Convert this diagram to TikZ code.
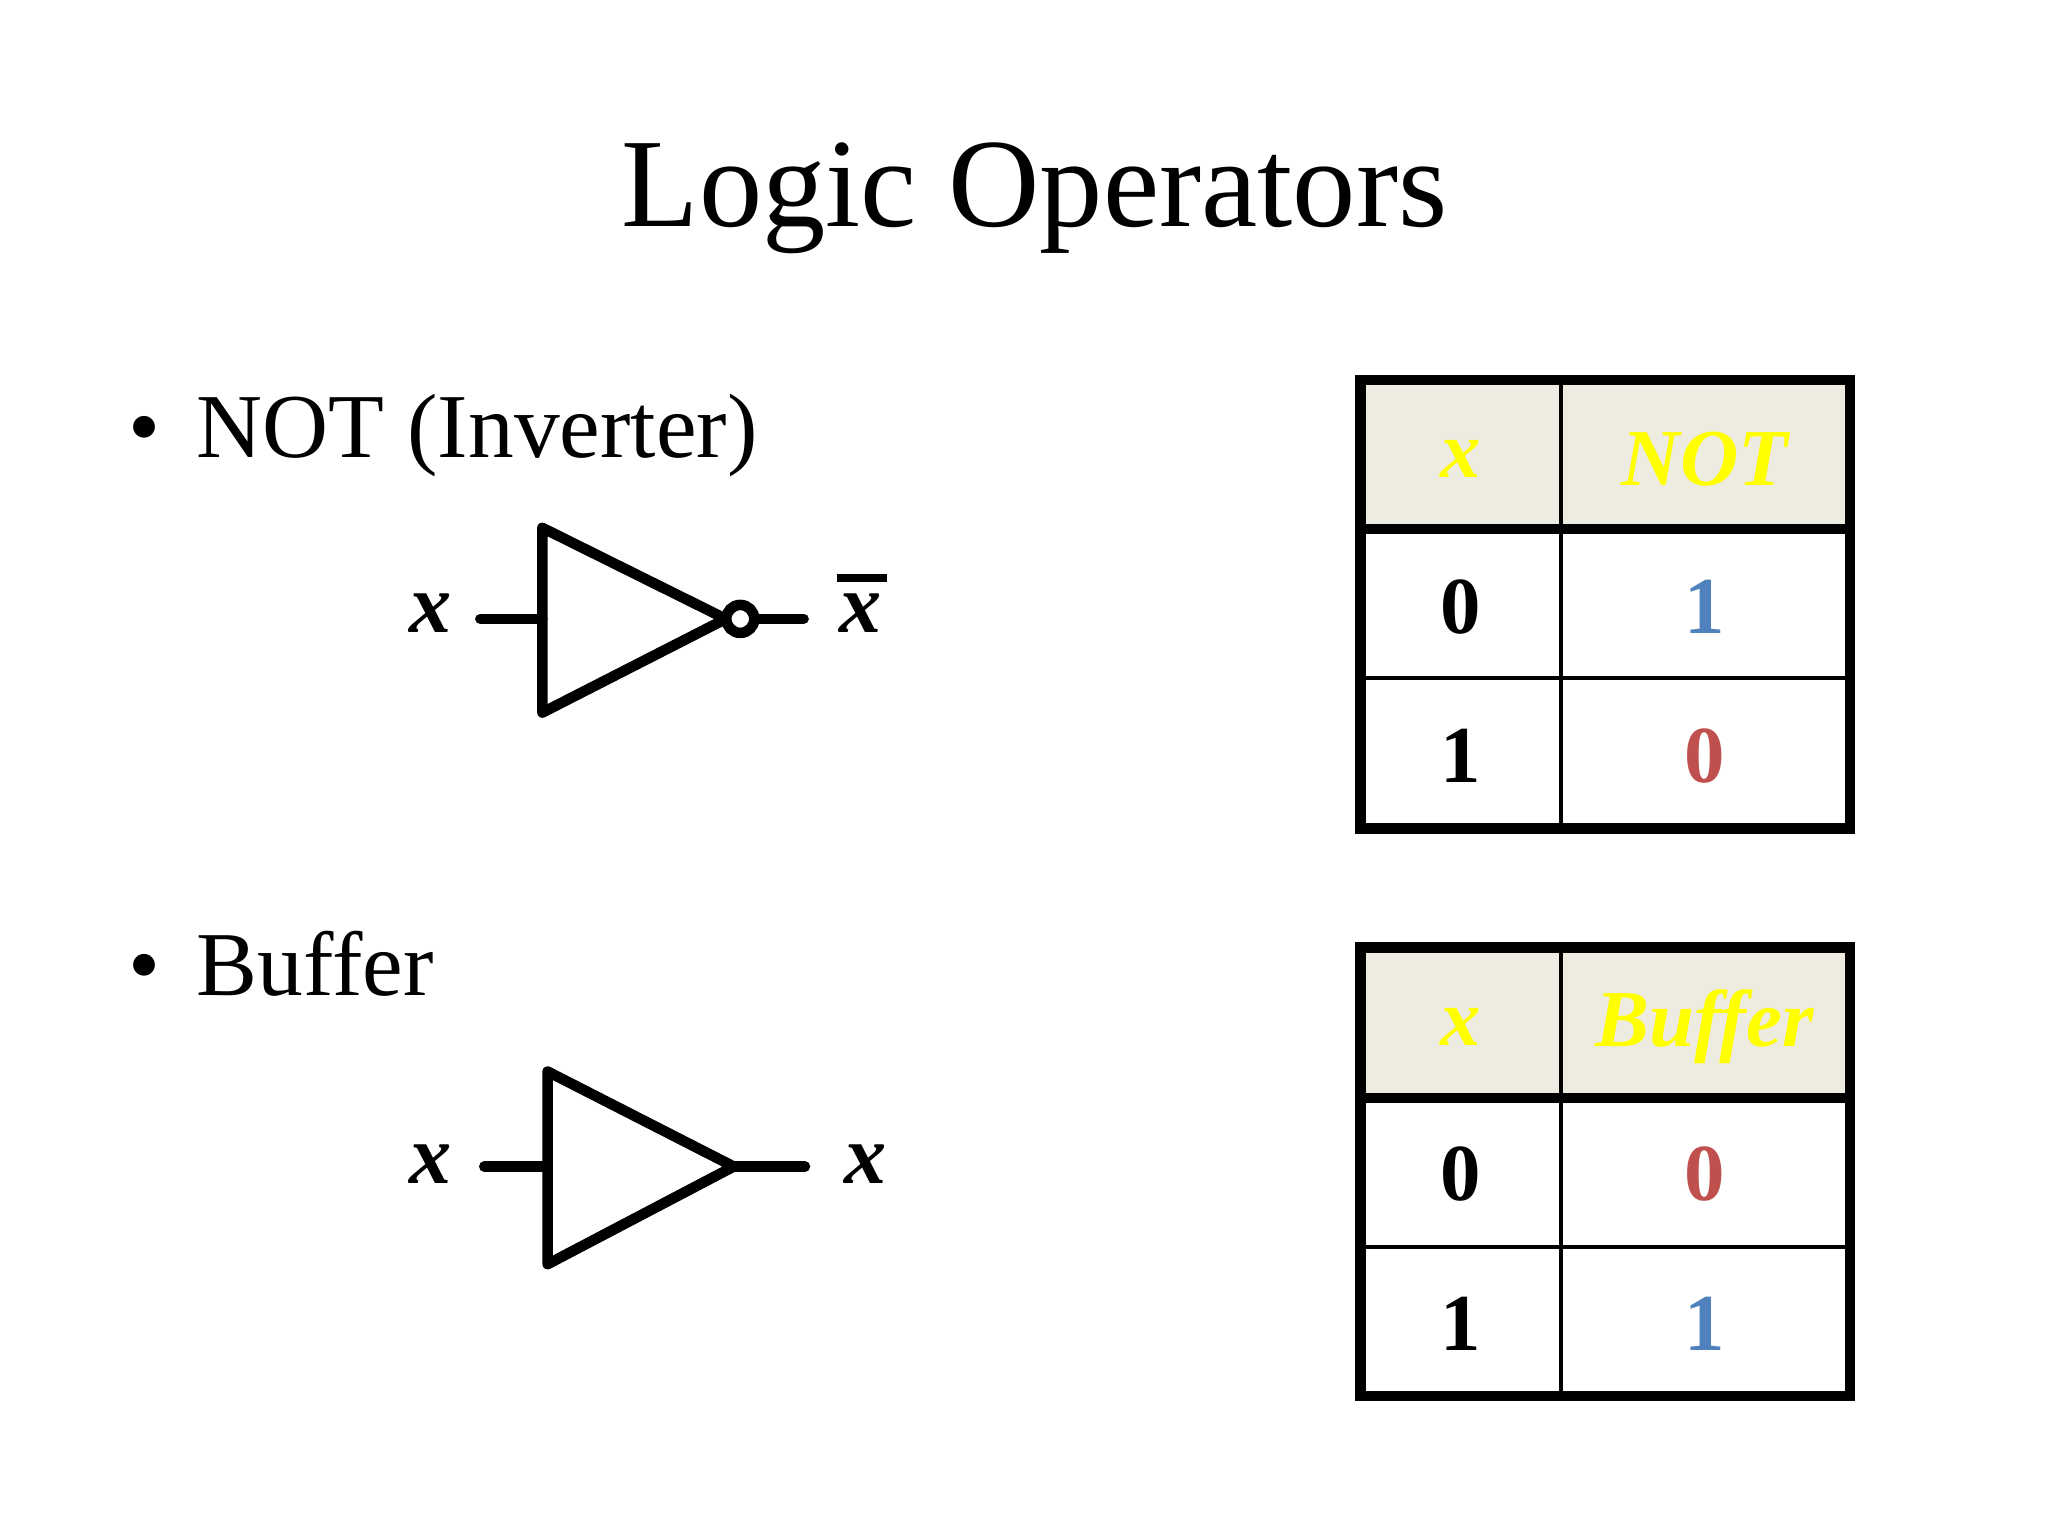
\documentclass[tikz,border=0pt]{standalone}
\usepackage{fontspec}
\setmainfont{Liberation Serif}
\definecolor{hdr}{HTML}{EEECE1}
\definecolor{vblue}{HTML}{4F81BD}
\definecolor{vred}{HTML}{C0504D}
\definecolor{vyel}{HTML}{FFFF00}
\begin{document}
\begin{tikzpicture}[x=0.013196cm,y=-0.013196cm,
  gate/.style={line width=3pt,line join=round,line cap=round},
  wire/.style={line width=3pt,line cap=round},
  lbl/.style={font=\fontsize{24}{28}\selectfont\bfseries\itshape},
  cell/.style={font=\fontsize{23}{27}\selectfont\bfseries},
  hcell/.style={font=\fontsize{23}{27}\selectfont\bfseries\itshape,text=vyel},
  bul/.style={font=\fontsize{26}{30}\selectfont,anchor=west}]
\useasboundingbox (0,0) rectangle (1552,1164);
\node[font=\fontsize{36}{40}\selectfont] (title) at (784,150) {Logic Operators};
\node[bul] (b1) at (88,330) {\textbullet\hspace{0.4em}NOT (Inverter)};
\node[bul] (b2) at (88,730) {\textbullet\hspace{0.4em}Buffer};
% NOT gate
\draw[gate] (411,400) -- (411,540) -- (550,469) -- cycle;
\node[draw,circle,line width=3pt,minimum size=0.28cm,inner sep=0pt] (bub) at (561,469) {};
\coordinate (nin) at (411,469); \coordinate (nina) at (364,469);
\coordinate (nout) at (609,469);
\draw[wire] (nina) -- (nin);
\draw[wire] (bub.east) -- (nout);
\node[lbl] (nx) at (326,465) {x};
\node[lbl] (nxb) at (652,465) {x};
\coordinate (ob1) at (634,438); \coordinate (ob2) at (672,438);
\draw[line width=2.2pt] (ob1) -- (ob2);
% Buffer gate
\draw[gate] (415,812) -- (415,958) -- (556,884) -- cycle;
\coordinate (bin) at (415,884); \coordinate (bina) at (367,884);
\coordinate (bo) at (556,884); \coordinate (bout) at (610,884);
\draw[wire] (bina) -- (bin);
\draw[wire] (bo) -- (bout);
\node[lbl] (bx) at (326,882) {x};
\node[lbl] (by) at (656,882) {x};
% Table 1
\fill[hdr] (1031,288) rectangle (1402,401);
\draw[line width=1.2pt] (1183,288) -- (1183,628) (1031,514) -- (1402,514);
\draw[line width=3pt] (1031,401) -- (1402,401);
\draw[line width=3pt] (1031,288) rectangle (1402,628);
\node[hcell] (t1a) at (1107,348) {x};
\node[hcell] (t1b) at (1292,348) {NOT};
\node[cell] at (1107,460) {0}; \node[cell,text=vblue] at (1292,460) {1};
\node[cell] at (1107,573) {1}; \node[cell,text=vred] at (1292,573) {0};
% Table 2
\fill[hdr] (1031,718) rectangle (1402,832);
\draw[line width=1.2pt] (1183,718) -- (1183,1058) (1031,945) -- (1402,945);
\draw[line width=3pt] (1031,832) -- (1402,832);
\draw[line width=3pt] (1031,718) rectangle (1402,1058);
\node[hcell] (t2a) at (1107,778) {x};
\node[hcell] (t2b) at (1292,778) {Buffer};
\node[cell] at (1107,890) {0}; \node[cell,text=vred] at (1292,890) {0};
\node[cell] at (1107,1003) {1}; \node[cell,text=vblue] at (1292,1003) {1};
\end{tikzpicture}
\end{document}
